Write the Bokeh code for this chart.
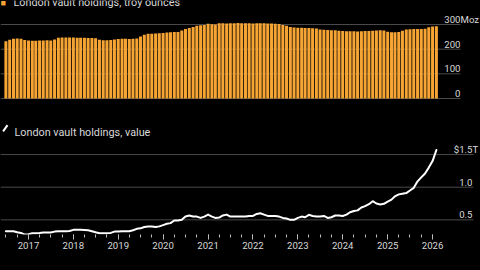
import pandas as pd
from bokeh.plotting import figure
from bokeh.layouts import column
from bokeh.models import FixedTicker, Label, PolyAnnotation, DatetimeTickFormatter, Range1d
from bokeh.embed import file_html
from bokeh.resources import INLINE

# ---- data -------------------------------------------------------------
FIRST_MONTH = "2016-07-01"

# London vault holdings, million troy ounces (monthly)
holdings_moz = [
    232, 238, 242, 243, 242, 237, 235, 234, 234, 235, 235, 236, 235, 239,
    246, 247, 247, 247, 247, 246, 246, 246, 245, 245, 244, 238, 236, 236,
    237, 239, 241, 242, 242, 241, 242, 243, 251, 258, 262, 262, 264, 265,
    266, 268, 269, 270, 270, 276, 282, 286, 290, 295, 297, 298, 303, 301,
    300, 305, 305, 304, 305, 305, 306, 305, 305, 305, 304, 305, 305, 305,
    304, 304, 303, 302, 298, 295, 290, 288, 287, 287, 286, 286, 285, 284,
    280, 279, 278, 277, 277, 275, 274, 273, 273, 273, 272, 273, 274, 274,
    275, 276, 277, 276, 271, 269, 269, 270, 275, 280, 281, 282, 282, 282,
    283, 289, 292, 293,
]

# London vault holdings, value in trillions of US dollars (monthly)
holdings_value_tn = [
    0.326, 0.326, 0.326, 0.31, 0.30, 0.275, 0.28, 0.296, 0.296, 0.30,
    0.306, 0.306, 0.306, 0.32, 0.326, 0.326, 0.326, 0.33, 0.347, 0.347,
    0.347, 0.345, 0.34, 0.326, 0.31, 0.296, 0.296, 0.296, 0.30, 0.32,
    0.32, 0.326, 0.326, 0.326, 0.34, 0.362, 0.37, 0.39, 0.398, 0.398,
    0.39, 0.40, 0.42, 0.44, 0.45, 0.49, 0.49, 0.50, 0.55, 0.567,
    0.55, 0.55, 0.53, 0.55, 0.58, 0.55, 0.53, 0.535, 0.567, 0.58,
    0.55, 0.55, 0.55, 0.55, 0.55, 0.56, 0.56, 0.59, 0.60, 0.58,
    0.56, 0.56, 0.56, 0.55, 0.53, 0.52, 0.50, 0.50, 0.53, 0.55,
    0.54, 0.577, 0.56, 0.55, 0.55, 0.56, 0.53, 0.54, 0.567, 0.565,
    0.56, 0.58, 0.617, 0.635, 0.645, 0.69, 0.71, 0.74, 0.786, 0.75,
    0.735, 0.745, 0.78, 0.81, 0.86, 0.89, 0.90, 0.91, 0.95, 0.99,
    1.09, 1.15, 1.21, 1.30, 1.40, 1.57,
]

YEARS = [2017, 2018, 2019, 2020, 2021, 2022, 2023, 2024, 2025, 2026]
TOP_TICKS = [0, 100, 200, 300]
TOP_LABELS = ["0", "100", "200", "300"]
TOP_UNIT = "Moz"
BOTTOM_TICKS = [0.5, 1.0, 1.5]
BOTTOM_LABELS = ["0.5", "1.0", "$1.5"]
BOTTOM_UNIT = "T"

months = pd.date_range(FIRST_MONTH, periods=len(holdings_moz), freq="MS")

# ---- styling ----------------------------------------------------------
BG = "#000000"
ORANGE = "#f6a534"
GRID = "#4a4a4a"
TEXT = "#d9d9d9"
FONT = "Roboto"
FS = "10px"
FS_TICK = "9.6px"
FS_LEGEND = "10.8px"

W = 480
MS_PER_DAY = 86400000.0
PX_PER_DAY = 44.9 / 365.25          # horizontal scale shared by both panels
t2017 = pd.Timestamp("2017-01-01").value / 1e6
x_start = t2017 - 28 / PX_PER_DAY * MS_PER_DAY


def px_to_x(px):
    return x_start + px / PX_PER_DAY * MS_PER_DAY


def new_panel(height, y_range, **kw):
    p = figure(width=W, height=height, x_axis_type="datetime", y_axis_location=None,
               x_range=Range1d(px_to_x(0), px_to_x(W)), y_range=y_range,
               output_backend="svg", toolbar_location=None, **kw)
    p.background_fill_color = BG
    p.border_fill_color = BG
    p.outline_line_color = None
    p.grid.visible = False
    p.min_border_left = 0
    p.min_border_right = 0
    p.min_border_top = 0
    return p


def gridlines(p, ticks, right_px):
    p.segment(x0=[px_to_x(0)] * len(ticks), x1=[px_to_x(right_px)] * len(ticks),
              y0=ticks, y1=ticks, line_color=GRID, line_width=1, level="underlay")


def label(p, text, x, y, align="left", y_units="screen", color=TEXT, size=FS, y_offset=0):
    p.add_layout(Label(x=x, y=y, x_units="screen", y_units=y_units, text=text,
                       text_align=align, text_baseline="alphabetic", text_color=color,
                       text_font=FONT, text_font_size=size, y_offset=y_offset))


# ---- top panel: holdings in troy ounces ------------------------------
TOP_H = 110
# 0 sits 98px down, 300 sits 24px down
top_px_per_unit = (98 - 24) / 300
top = new_panel(TOP_H, Range1d(-(TOP_H - 98) / top_px_per_unit, 98 / top_px_per_unit),
                x_axis_location=None)
top.min_border_bottom = 0
gridlines(top, TOP_TICKS, 460)

bar_w = 0.8 * 30.44 * MS_PER_DAY
top.vbar(x=months, top=holdings_moz, bottom=0, width=bar_w,
         fill_color=ORANGE, line_color=None)

for v, t in zip(TOP_TICKS, TOP_LABELS):
    label(top, t, 460, v, align="right", y_units="data", size=FS_TICK, y_offset=5)
label(top, TOP_UNIT, 460, TOP_TICKS[-1], align="left", y_units="data", size=FS_TICK, y_offset=5)

# legend (sits at the very top edge)
label(top, "\u25A0", 0, TOP_H - 2, color=ORANGE, size="9px")
label(top, "London vault holdings, troy ounces", 13, TOP_H - 1.8, size=FS_LEGEND)

# ---- bottom panel: holdings value -------------------------------------
BOT_H = 160
FRAME_BOTTOM = 234 - TOP_H            # frame spans the panel's top 124px
bot_px_per_unit = (219.3 - 154) / 1.0
zero_px = 252 - TOP_H
bot = new_panel(BOT_H, Range1d((zero_px - FRAME_BOTTOM) / bot_px_per_unit,
                               zero_px / bot_px_per_unit))
bot.min_border_bottom = BOT_H - FRAME_BOTTOM
gridlines(bot, BOTTOM_TICKS, 473)

bot.line(x=months, y=holdings_value_tn, line_color="white", line_width=2,
         line_join="round", line_cap="round")

year_ms = [pd.Timestamp(f"{y}-01-01").value / 1e6 for y in YEARS]
quarter_ms = [d.value / 1e6 for d in pd.date_range("2016-07-01", "2026-01-01", freq="QS")]
ax = bot.xaxis[0]
ax.ticker = FixedTicker(ticks=year_ms, minor_ticks=quarter_ms)
ax.formatter = DatetimeTickFormatter(years="%Y", months="%Y", days="%Y", hours="%Y")
ax.axis_line_color = None
ax.major_tick_line_color = "#bdbdbd"
ax.minor_tick_line_color = "#bdbdbd"
ax.major_tick_in = 0
ax.major_tick_out = 5
ax.minor_tick_in = 0
ax.minor_tick_out = 3
ax.major_label_standoff = 2
ax.major_label_text_color = TEXT
ax.major_label_text_font = FONT
ax.major_label_text_font_size = FS_TICK

for v, t in zip(BOTTOM_TICKS, BOTTOM_LABELS):
    label(bot, t, 472, v, align="right", y_units="data", size=FS_TICK, y_offset=5)
label(bot, BOTTOM_UNIT, 472, BOTTOM_TICKS[-1], align="left", y_units="data", size=FS_TICK, y_offset=5)

# legend: short white stroke + caption (screen y measured up from frame bottom)
fb = FRAME_BOTTOM
bot.add_layout(PolyAnnotation(xs=[1.8, 3.4, 7.8, 6.2],
                              ys=[fb - 20.2, fb - 21.4, fb - 15.2, fb - 14.0],
                              xs_units="screen", ys_units="screen",
                              fill_color="white", fill_alpha=1, line_color=None))
label(bot, "London vault holdings, value", 14, fb - 22, size=FS_LEGEND)

layout_note = "Note: Includes the holdings of the London commercial vaults as well as the Bank of England"
label(bot, layout_note, 0, fb - BOT_H, size=FS)

layout = column(top, bot, spacing=0)
layout.background = BG

with open("out.html", "w") as f:
    f.write(file_html(layout, INLINE))
